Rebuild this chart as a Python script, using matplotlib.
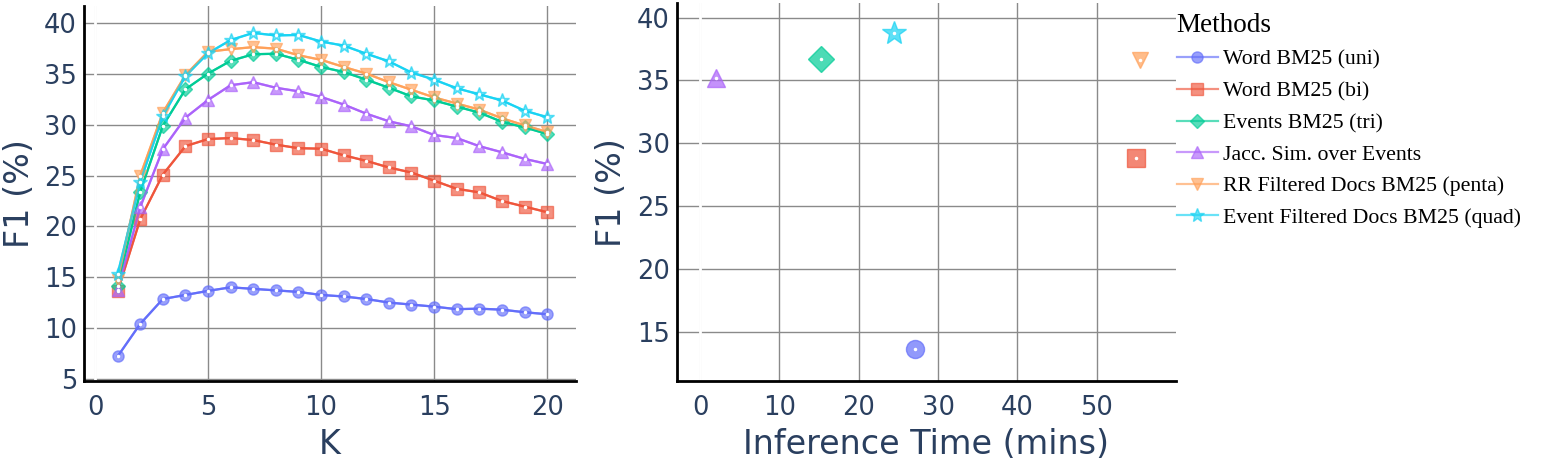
import matplotlib.pyplot as plt

# ----------------------------
# Data
# ----------------------------
kValues = list(range(1, 21))

methodNames = [
    "Word BM25 (uni)",
    "Word BM25 (bi)",
    "Events BM25 (tri)",
    "Jacc. Sim. over Events",
    "RR Filtered Docs BM25 (penta)",
    "Event Filtered Docs BM25 (quad)",
]

f1Uni = [7.2, 10.4, 12.85, 13.25, 13.65, 14.0, 13.85, 13.7, 13.55, 13.25,
         13.1, 12.85, 12.5, 12.3, 12.1, 11.85, 11.9, 11.8, 11.55, 11.35]
f1Bi = [13.6, 20.7, 25.1, 27.9, 28.6, 28.7, 28.5, 28.05, 27.7, 27.65,
        27.0, 26.45, 25.8, 25.3, 24.5, 23.7, 23.35, 22.5, 21.95, 21.4]
f1Tri = [14.15, 23.4, 29.9, 33.5, 35.05, 36.3, 36.95, 37.0, 36.4, 35.7,
         35.2, 34.45, 33.65, 32.8, 32.4, 31.8, 31.2, 30.3, 29.75, 29.1]
f1Jacc = [13.7, 21.9, 27.6, 30.7, 32.45, 33.9, 34.2, 33.65, 33.3, 32.75,
          32.0, 31.1, 30.35, 29.85, 29.0, 28.7, 27.9, 27.3, 26.65, 26.15]
f1Penta = [14.7, 25.0, 31.2, 34.9, 37.2, 37.45, 37.65, 37.5, 36.85, 36.4,
           35.7, 35.05, 34.2, 33.45, 32.7, 32.1, 31.5, 30.65, 29.95, 29.3]
f1Quad = [15.3, 24.4, 30.85, 34.8, 37.05, 38.35, 39.05, 38.8, 38.85, 38.2,
          37.8, 37.0, 36.25, 35.15, 34.45, 33.6, 33.0, 32.4, 31.4, 30.75]

# inference time (mins) and best F1 per method, same order as methodNames
inferenceTime = [27.15, 55.0, 15.2, 2.0, 55.4, 24.45]
bestF1 = [13.65, 28.85, 36.7, 35.2, 36.65, 38.75]

yTicks = [5, 10, 15, 20, 25, 30, 35, 40]
yTicksRight = [15, 20, 25, 30, 35, 40]
kTicks = [0, 5, 10, 15, 20]
timeTicks = [0, 10, 20, 30, 40, 50]

# ----------------------------
# Styling (plotly-like look)
# ----------------------------
colors = ["#636EFA", "#EF553B", "#00CC96", "#AB63FA", "#FFA15A", "#19D3F3"]
markers = ["o", "s", "D", "^", "v", "*"]
leftSizes = [8, 8, 7, 8, 8, 10]
rightSizes = [13, 13, 13, 13, 12, 18]
textColor = "#2a3f5f"
gridColor = "#8a8a8a"

plt.rcParams["font.family"] = ["DejaVu Sans"]

fig = plt.figure(figsize=(15.46, 4.65), dpi=100)
axLeft = fig.add_axes([0.0543, 0.1796, 0.3183, 0.8075])
axRight = fig.add_axes([0.4377, 0.1800, 0.3230, 0.8135])


def styleAxis(ax):
    ax.set_facecolor("white")
    for side in ["top", "right"]:
        ax.spines[side].set_visible(False)
    for side in ["left", "bottom"]:
        ax.spines[side].set_linewidth(2)
        ax.spines[side].set_color("black")
        ax.spines[side].set_zorder(5)
    ax.grid(True, color=gridColor, linewidth=1)
    ax.set_axisbelow(True)
    ax.tick_params(length=0, labelsize=18.5, labelcolor=textColor)
    ax.tick_params(axis="x", pad=10)
    ax.tick_params(axis="y", pad=5)
    # white zeroline like plotly's default template
    ax.axvline(0, color="white", linewidth=2, zorder=1)


# ----------------------------
# Left panel: F1 vs K
# ----------------------------
leftSeries = [f1Uni, f1Bi, f1Tri, f1Jacc, f1Penta, f1Quad]
legendHandles = []
for name, vals, col, mk, ms in zip(methodNames, leftSeries, colors, markers, leftSizes):
    axLeft.plot(kValues, vals, color=col, linewidth=1.6, zorder=3)
    h, = axLeft.plot(kValues, vals, color=col, linestyle="-", linewidth=1.6,
                     marker=mk, markersize=ms, markerfacecolor=col,
                     markeredgecolor=col, alpha=0.65, zorder=4, label=name)
    axLeft.plot(kValues, vals, linestyle="none", marker="o", markersize=1.5,
                color="white", zorder=4.5)
    legendHandles.append(h)

styleAxis(axLeft)
axLeft.set_xlim(-0.49, 21.28)
axLeft.set_ylim(4.73, 41.7)
axLeft.set_xticks(kTicks)
axLeft.set_yticks(yTicks)
axLeft.set_xlabel("K", fontsize=24, color=textColor, labelpad=5)
axLeft.set_ylabel("F1 (%)", fontsize=24, color=textColor, labelpad=6)

# ----------------------------
# Right panel: F1 vs inference time
# ----------------------------
for name, t, f1, col, mk, ms in zip(methodNames, inferenceTime, bestF1, colors, markers, rightSizes):
    axRight.plot([t], [f1], linestyle="none", marker=mk, markersize=ms,
                 color=col, alpha=0.7, markeredgecolor=col, zorder=4)
    axRight.plot([t], [f1], linestyle="none", marker="o", markersize=1.5,
                 color="white", zorder=4.5)

styleAxis(axRight)
axRight.set_xlim(-2.94, 60.0)
axRight.set_ylim(11.11, 41.15)
axRight.set_xticks(timeTicks)
axRight.set_yticks(yTicksRight)
axRight.set_xlabel("Inference Time (mins)", fontsize=24, color=textColor, labelpad=5)
axRight.set_ylabel("F1 (%)", fontsize=24, color=textColor, labelpad=6)

# ----------------------------
# Legend
# ----------------------------
leg = fig.legend(
    handles=legendHandles,
    labels=methodNames,
    title="Methods",
    loc="upper left",
    bbox_to_anchor=(0.7555, 0.99),
    frameon=False,
    prop={"family": "Liberation Serif", "size": 15.7},
    title_fontproperties={"family": "Liberation Serif", "size": 19.5},
    handlelength=1.9,
    handletextpad=0.2,
    labelspacing=0.52,
    borderaxespad=0,
)
leg._legend_box.align = "left"

fig.savefig("out.png", dpi=100, facecolor="white")
